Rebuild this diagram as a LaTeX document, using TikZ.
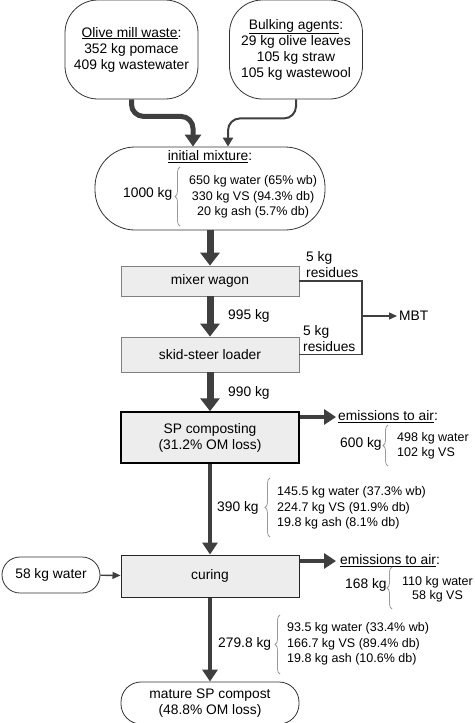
\documentclass[tikz,border=0pt]{standalone}
\usepackage{fontspec}
\setmainfont{Liberation Sans}
\usepackage{tikz}
\usetikzlibrary{arrows.meta,positioning,decorations.pathreplacing}
\definecolor{flowgray}{HTML}{3F3F3F}
\definecolor{boxfill}{HTML}{EDEDED}
\definecolor{bracegray}{HTML}{9A9A9A}
\tikzset{
  source/.style={draw=black!80, line width=0.8pt, rounded corners=33pt, minimum width=133pt, minimum height=99pt, align=center, inner sep=0pt},
  mixbox/.style={draw=black!80, line width=0.8pt, rounded corners=40pt, minimum width=230pt, minimum height=83pt, inner sep=0pt},
  stadium/.style={draw=black!80, line width=0.8pt, align=center, inner sep=0pt},
  process/.style={draw=black!50, line width=0.8pt, fill=boxfill, minimum width=178pt, align=center, inner sep=0pt},
  lbl/.style={inner sep=0pt, align=left},
  parts/.style={inner sep=0pt, align=left, anchor=west, font=\fontsize{12.5}{15.3}\selectfont},
  mainflow/.style={draw=flowgray, line width=7pt, -{Triangle[length=13pt,width=19pt]}},
  midflow/.style={draw=flowgray, line width=4.5pt, -{Triangle[length=12pt,width=15pt]}},
  emitflow/.style={draw=flowgray, line width=4.5pt, -{Triangle[length=12pt,width=15pt]}},
  feedthick/.style={draw=flowgray, line width=5pt, -{Triangle[length=12pt,width=16pt]}},
  feedthin/.style={draw=flowgray, line width=2pt, -{Triangle[length=9pt,width=10pt]}},
  sideflow/.style={draw=flowgray, line width=1.3pt, -{Triangle[length=8pt,width=7pt]}},
  residue/.style={draw=flowgray, line width=1.3pt},
  curly/.style={draw=bracegray, line width=0.8pt, decorate, decoration={brace, amplitude=5pt}}
}
\begin{document}
\begin{tikzpicture}[x=1pt,y=-1pt,font=\fontsize{13.8}{16}\selectfont]
\useasboundingbox (0,0) rectangle (474,723);

% inputs
\node[source] (olive) at (131.5,49.5) {\underline{Olive mill waste}:\\352 kg pomace\\409 kg wastewater};
\node[source] (bulking) at (296,49.5) {\underline{Bulking agents}:\\29 kg olive leaves\\105 kg straw\\105 kg wastewool};

% initial mixture
\node[mixbox] (mixture) at (210,188.5) {};
\node[lbl] (mixtitle) at (210,157) {\underline{initial mixture}:};
\node[lbl, anchor=west] (mixtotal) at (123,194) {1000 kg};
\draw[curly] (180,226) -- (180,167);
\node[parts, align=center] (mixparts) at (189,197) {650 kg water (65\% wb)\\330 kg VS (94.3\% db)\\20 kg ash (5.7\% db)};

\draw[feedthick, rounded corners=12pt] (olive.south) -- ++(0,17) -| ([xshift=-17pt]mixture.north);
\draw[feedthin, rounded corners=12pt] (bulking.south) -- ++(0,19) -| ([xshift=18pt]mixture.north);

% process chain
\node[process, minimum height=30pt] (mixer) at (210,281) {mixer wagon};
\node[process, minimum height=35pt] (loader) at (210,354.5) {skid-steer loader};
\node[process, minimum height=51pt, draw=black, line width=1.5pt] (composting) at (210,437.5) {SP composting\\(31.2\% OM loss)};
\node[process, minimum height=42pt, draw=black!85, line width=1pt] (curing) at (210,576) {curing};
\node[stadium, minimum width=178pt, minimum height=42pt, rounded corners=20pt] (compost) at (210,703) {mature SP compost\\(48.8\% OM loss)};
\node[stadium, minimum width=98pt, minimum height=36pt, rounded corners=18pt] (water) at (51,575) {58 kg water};

\draw[mainflow] (mixture) -- (mixer);
\draw[mainflow] (mixer) -- (loader);
\draw[mainflow] (loader) -- (composting);
\draw[midflow] (composting) -- (curing);
\draw[midflow] (curing) -- (compost);
\draw[sideflow] (water) -- (curing);

\node[lbl, anchor=west] (flowA) at (228,316) {995 kg};
\node[lbl, anchor=west] (flowB) at (228,393) {990 kg};

% residues
\coordinate (junction) at (362,316);
\draw[residue] (mixer.east) -| (junction) |- (loader.east);
\node[lbl, anchor=west] (mbt) at (399,316) {MBT};
\draw[sideflow, shorten >=2pt] (junction) -- (mbt.west);
\node[lbl, anchor=west] (resA) at (306,265) {5 kg\\residues};
\node[lbl, anchor=west] (resB) at (303,339) {5 kg\\residues};

% emissions
\node[lbl, anchor=west] (emisA) at (338,417) {\underline{emissions to air}:};
\draw[emitflow] (composting.east |- emisA.west) -- ([xshift=-2pt]emisA.west);
\node[lbl, anchor=west] (lossA) at (340,444) {600 kg};
\draw[curly] (388,466) -- (388,425);
\node[parts, font=\fontsize{12.5}{15}\selectfont] (partsA) at (397,445.5) {498 kg water\\102 kg VS};

\node[lbl, anchor=west] (emisB) at (340,561) {\underline{emissions to air}:};
\draw[emitflow] (curing.east |- emisB.west) -- ([xshift=-4pt]emisB.west);
\node[lbl, anchor=west] (lossB) at (345,585) {168 kg};
\draw[curly] (392,609) -- (392,567);
\node[parts, align=center, font=\fontsize{12.5}{14}\selectfont] (partsB) at (402,589) {110 kg water\\58 kg VS};

% compost composition
\node[lbl, anchor=west] (flowC) at (217,508) {390 kg};
\draw[curly] (270,537) -- (270,478);
\node[parts] (partsC) at (277,508) {145.5 kg water (37.3\% wb)\\224.7 kg VS (91.9\% db)\\19.8 kg ash (8.1\% db)};

\node[lbl, anchor=west] (flowD) at (218,644) {279.8 kg};
\draw[curly] (280,674) -- (280,615);
\node[parts] (partsD) at (287,644) {93.5 kg water (33.4\% wb)\\166.7 kg VS (89.4\% db)\\19.8 kg ash (10.6\% db)};
\end{tikzpicture}
\end{document}
